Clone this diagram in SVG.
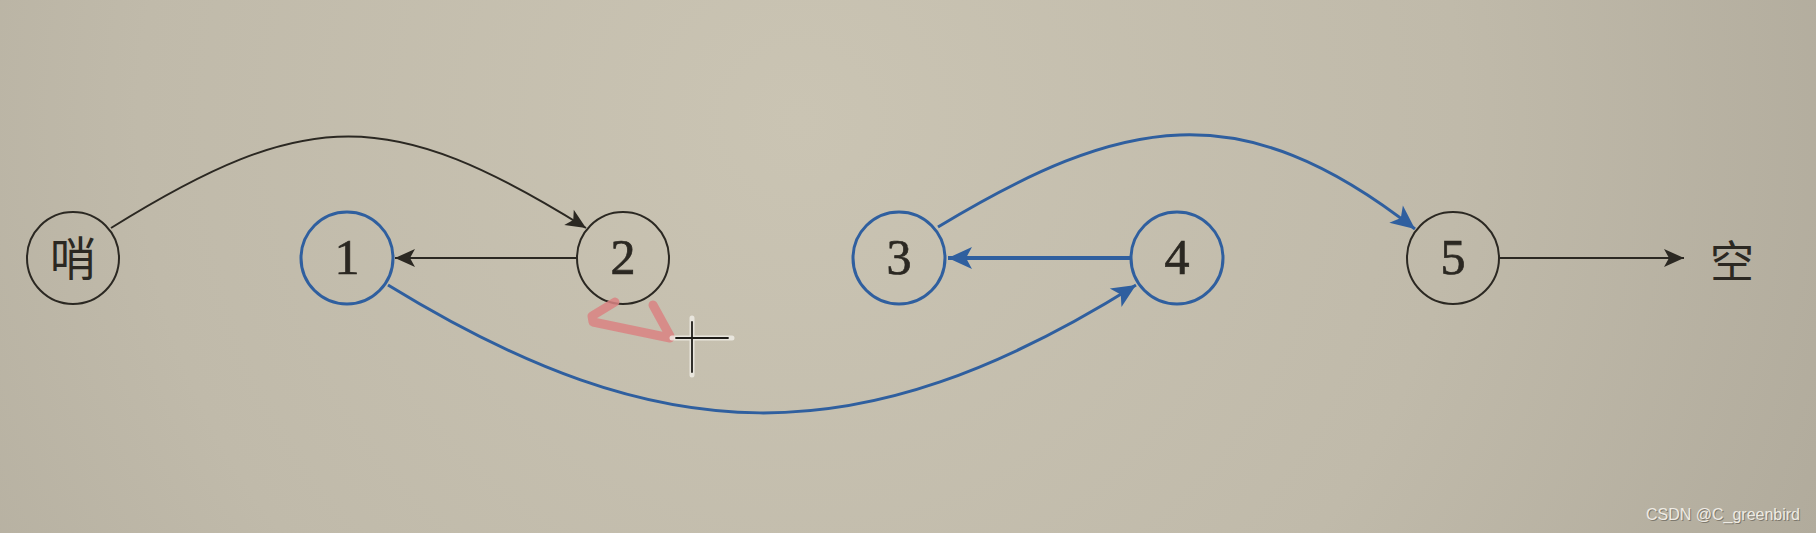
<svg xmlns="http://www.w3.org/2000/svg" width="1816" height="533" viewBox="0 0 1816 533">
  <defs>
    <radialGradient id="bg" cx="800" cy="120" r="1100" gradientUnits="userSpaceOnUse">
      <stop offset="0" stop-color="#cac4b3"/>
      <stop offset="0.6" stop-color="#c0baaa"/>
      <stop offset="1" stop-color="#b1ab9c"/>
    </radialGradient>
    <marker id="ahBlack" markerUnits="userSpaceOnUse" markerWidth="24" markerHeight="22" viewBox="0 -11 22 22" refX="20" refY="0" orient="auto">
      <path d="M0,-9 L20,0 L0,9 L5,0 Z" fill="#2b2822"/>
    </marker>
    <marker id="ahBlue" markerUnits="userSpaceOnUse" markerWidth="28" markerHeight="26" viewBox="0 -13 26 26" refX="24" refY="0" orient="auto">
      <path d="M0,-11 L24,0 L0,11 L6,0 Z" fill="#2f5f9f"/>
    </marker>
    <style>
      .nb { fill: none; stroke: #2b2822; stroke-width: 2; }
      .nblue { fill: none; stroke: #2f5f9f; stroke-width: 3; }
      .num { font-family: "Liberation Serif", "DejaVu Serif", serif; font-size: 50px; fill: #2b2822; stroke: #2b2822; stroke-width: 0.7; text-anchor: middle; }
      .cjk { font-family: "Noto Sans CJK SC", "Noto Sans CJK JP", sans-serif; fill: #2b2822; text-anchor: middle; }
      .eb { fill: none; stroke: #2b2822; stroke-width: 2; }
      .eblue { fill: none; stroke: #2f5f9f; stroke-width: 3; }
    </style>
  </defs>
  <rect x="0" y="0" width="1816" height="533" fill="url(#bg)"/>

  <g id="connectors">
    <path class="eb" d="M111,228 C307,106 390,106 586,228" marker-end="url(#ahBlack)"/>
    <path class="eb" d="M577,258 L395,258" marker-end="url(#ahBlack)"/>
    <path class="eblue" d="M388,285 C660,452 858,459 1136,285" marker-end="url(#ahBlue)"/>
    <path class="eblue" d="M938,227 C1122,116 1240,92 1415,229" marker-end="url(#ahBlue)"/>
    <path class="eblue" style="stroke-width:4" d="M1131,258 L948,258" marker-end="url(#ahBlue)"/>
    <path class="eb" d="M1499,258 L1684,258" marker-end="url(#ahBlack)"/>
  </g>

  <g id="node-shao">
    <circle class="nb" cx="73" cy="258" r="46"/>
    <text class="cjk" x="73" y="275" font-size="46">哨</text>
  </g>
  <g id="node-1">
    <circle class="nblue" cx="347" cy="258" r="46"/>
    <text class="num" x="347" y="274">1</text>
  </g>
  <g id="node-2">
    <circle class="nb" cx="623" cy="258" r="46"/>
    <text class="num" x="623" y="274">2</text>
  </g>
  <g id="node-3">
    <circle class="nblue" cx="899" cy="258" r="46"/>
    <text class="num" x="899" y="274">3</text>
  </g>
  <g id="node-4">
    <circle class="nblue" cx="1177" cy="258" r="46"/>
    <text class="num" x="1177" y="274">4</text>
  </g>
  <g id="node-5">
    <circle class="nb" cx="1453" cy="258" r="46"/>
    <text class="num" x="1453" y="274">5</text>
  </g>
  <g id="node-kong">
    <text class="cjk" x="1732" y="278" font-size="44">空</text>
  </g>

  <g id="annotation">
    <path d="M615,302 L592,316 L593,322 L670,338 M653,305 L670,336" fill="none" stroke="#d98282" stroke-width="9" stroke-linecap="round" stroke-linejoin="round" opacity="0.85"/>
    <g stroke-linecap="round">
      <path d="M692,318 L692,375 M672,338 L732,338" stroke="#f4f2ec" stroke-width="5" opacity="0.75"/>
      <path d="M692,322 L692,372 M676,338 L728,338" stroke="#1e1c18" stroke-width="1.8"/>
    </g>
  </g>

  <text x="1801" y="521" font-family="Liberation Sans, Arial, sans-serif" font-size="16" fill="#5a564d" text-anchor="end" opacity="0.6">CSDN @C_greenbird</text>
  <text x="1800" y="520" font-family="Liberation Sans, Arial, sans-serif" font-size="16" fill="#eeebe4" text-anchor="end">CSDN @C_greenbird</text>
</svg>
